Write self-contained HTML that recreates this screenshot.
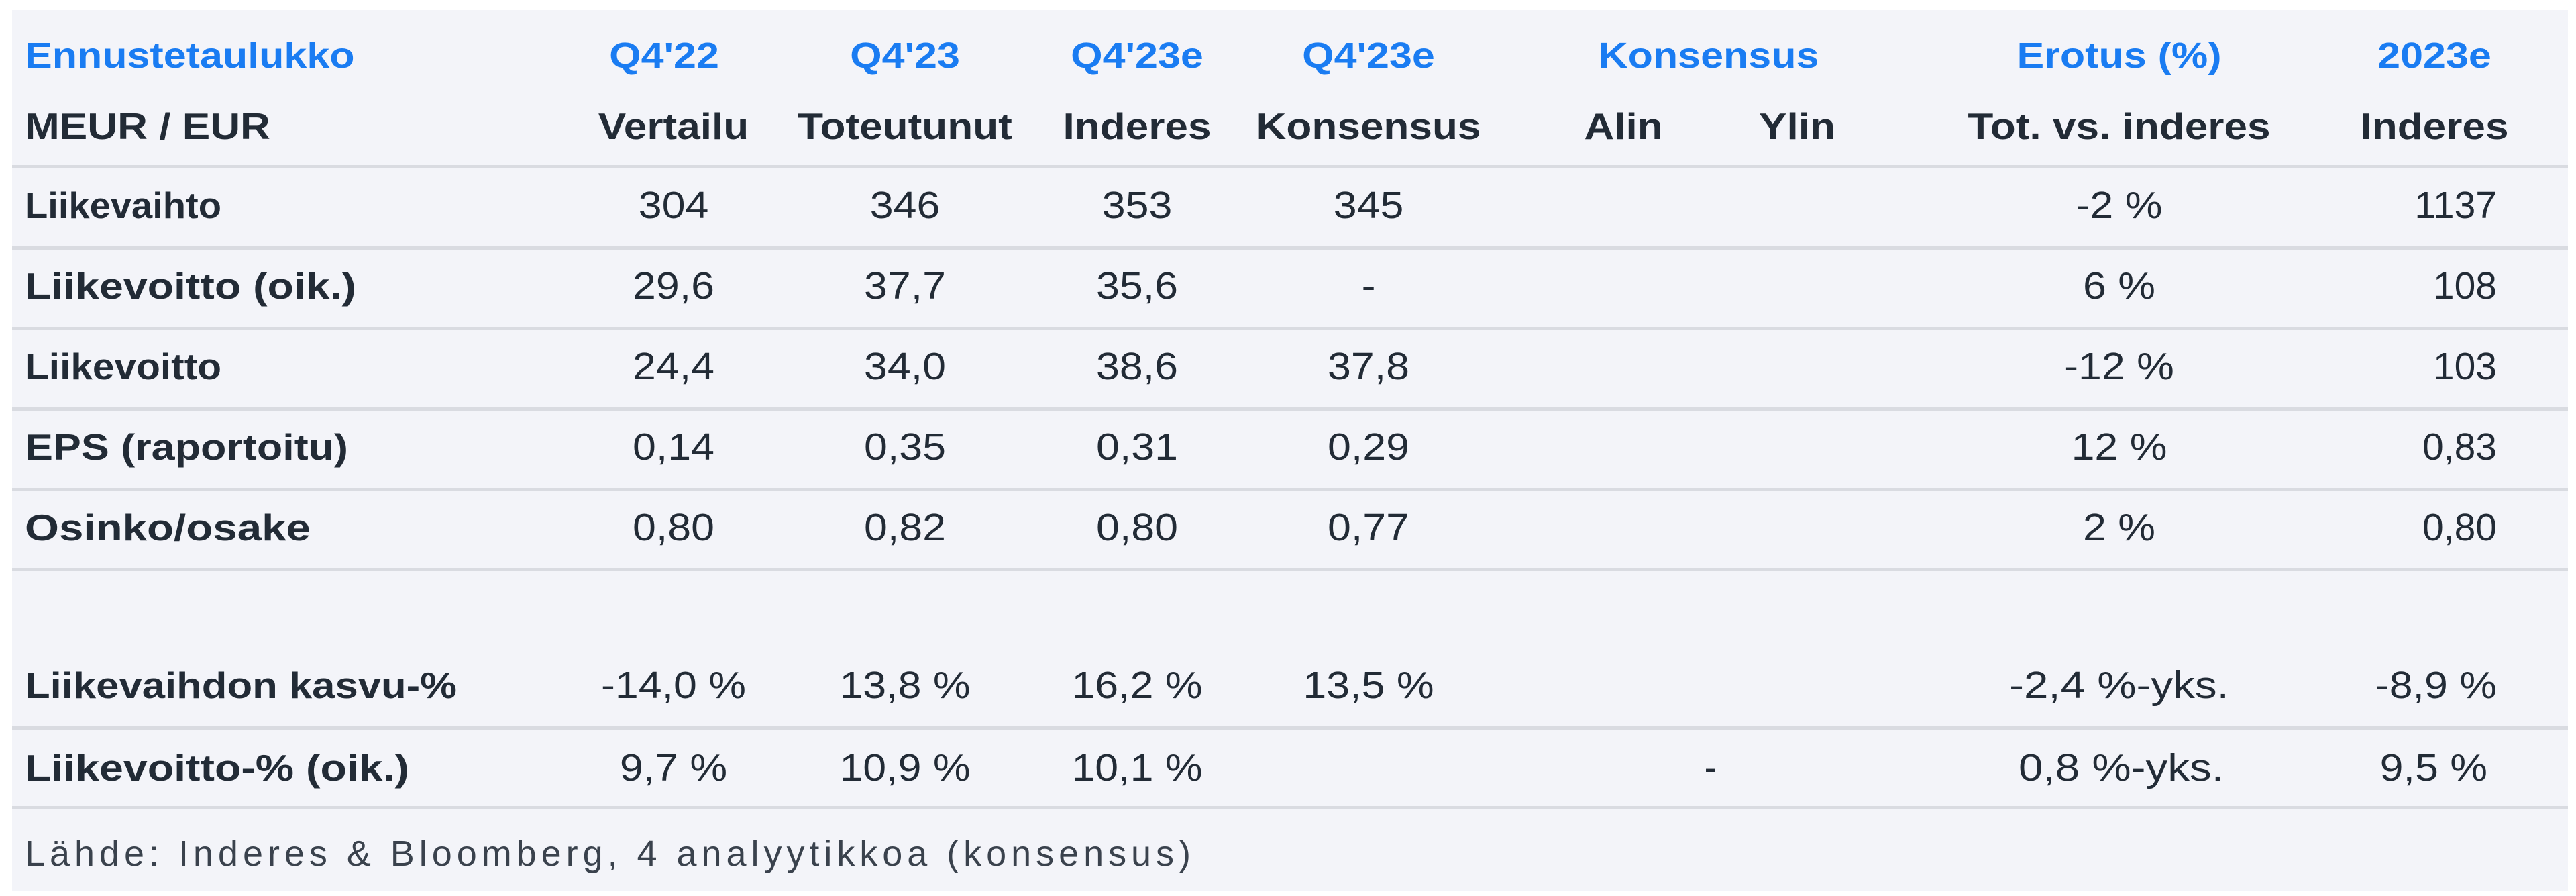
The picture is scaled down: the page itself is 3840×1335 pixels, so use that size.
<!DOCTYPE html>
<html><head><meta charset="utf-8"><style>
html,body{margin:0;padding:0;background:#fff;}
svg{display:block}
text{font-family:"Liberation Sans",sans-serif;}
.h{font-weight:bold;font-size:54px;fill:#1a7cf2;text-anchor:middle}
.s{font-weight:bold;font-size:55px;fill:#222b36;text-anchor:middle}
.l{font-weight:bold;font-size:55px;fill:#222b36}
.v{font-size:57px;fill:#222b36;text-anchor:middle}
.r{font-size:57px;fill:#222b36;text-anchor:end}
</style></head><body>
<svg width="3840" height="1335" viewBox="0 0 3840 1335" xmlns="http://www.w3.org/2000/svg">
<rect x="18" y="15" width="3810" height="1312" fill="#f3f4f9"/>
<g fill="#d9dbe1">
<rect x="18" y="246" width="3810" height="5"/>
<rect x="18" y="367" width="3810" height="5"/>
<rect x="18" y="487" width="3810" height="5"/>
<rect x="18" y="607" width="3810" height="5"/>
<rect x="18" y="727" width="3810" height="5"/>
<rect x="18" y="846" width="3810" height="5"/>
<rect x="18" y="1082" width="3810" height="5"/>
<rect x="18" y="1201" width="3810" height="5"/>
</g>
<g>
<text transform="translate(37,101) scale(1.13,1)" class="h" style="text-anchor:start">Ennustetaulukko</text>
<text transform="translate(990,101) scale(1.13,1)" class="h">Q4'22</text>
<text transform="translate(1349,101) scale(1.13,1)" class="h">Q4'23</text>
<text transform="translate(1695,101) scale(1.13,1)" class="h">Q4'23e</text>
<text transform="translate(2040,101) scale(1.13,1)" class="h">Q4'23e</text>
<text transform="translate(2547,101) scale(1.13,1)" class="h">Konsensus</text>
<text transform="translate(3159,101) scale(1.13,1)" class="h">Erotus (%)</text>
<text transform="translate(3629,101) scale(1.13,1)" class="h">2023e</text>
<text transform="translate(37,207) scale(1.13,1)" class="l">MEUR / EUR</text>
<text transform="translate(1004,207) scale(1.13,1)" class="s">Vertailu</text>
<text transform="translate(1349,207) scale(1.13,1)" class="s">Toteutunut</text>
<text transform="translate(1695,207) scale(1.13,1)" class="s">Inderes</text>
<text transform="translate(2040,207) scale(1.13,1)" class="s">Konsensus</text>
<text transform="translate(2420,207) scale(1.13,1)" class="s">Alin</text>
<text transform="translate(2679,207) scale(1.13,1)" class="s">Ylin</text>
<text transform="translate(3159,207) scale(1.13,1)" class="s">Tot. vs. inderes</text>
<text transform="translate(3629,207) scale(1.13,1)" class="s">Inderes</text>
</g>
<g>
<text transform="translate(37,325)" class="l" textLength="293" lengthAdjust="spacingAndGlyphs">Liikevaihto</text>
<text transform="translate(1004,325) scale(1.1,1)" class="v">304</text><text transform="translate(1349,325) scale(1.1,1)" class="v">346</text><text transform="translate(1695,325) scale(1.1,1)" class="v">353</text><text transform="translate(2040,325) scale(1.1,1)" class="v">345</text><text transform="translate(3159,325) scale(1.1,1)" class="v">-2 %</text><text x="3722" y="325" class="r">1137</text>
<text transform="translate(37,445)" class="l" textLength="494" lengthAdjust="spacingAndGlyphs">Liikevoitto (oik.)</text>
<text transform="translate(1004,445) scale(1.1,1)" class="v">29,6</text><text transform="translate(1349,445) scale(1.1,1)" class="v">37,7</text><text transform="translate(1695,445) scale(1.1,1)" class="v">35,6</text><text transform="translate(2040,445) scale(1.1,1)" class="v">-</text><text transform="translate(3159,445) scale(1.1,1)" class="v">6 %</text><text x="3722" y="445" class="r">108</text>
<text transform="translate(37,565)" class="l" textLength="293" lengthAdjust="spacingAndGlyphs">Liikevoitto</text>
<text transform="translate(1004,565) scale(1.1,1)" class="v">24,4</text><text transform="translate(1349,565) scale(1.1,1)" class="v">34,0</text><text transform="translate(1695,565) scale(1.1,1)" class="v">38,6</text><text transform="translate(2040,565) scale(1.1,1)" class="v">37,8</text><text transform="translate(3159,565) scale(1.1,1)" class="v">-12 %</text><text x="3722" y="565" class="r">103</text>
<text transform="translate(37,685)" class="l" textLength="482" lengthAdjust="spacingAndGlyphs">EPS (raportoitu)</text>
<text transform="translate(1004,685) scale(1.1,1)" class="v">0,14</text><text transform="translate(1349,685) scale(1.1,1)" class="v">0,35</text><text transform="translate(1695,685) scale(1.1,1)" class="v">0,31</text><text transform="translate(2040,685) scale(1.1,1)" class="v">0,29</text><text transform="translate(3159,685) scale(1.1,1)" class="v">12 %</text><text x="3722" y="685" class="r">0,83</text>
<text transform="translate(37,805)" class="l" textLength="426" lengthAdjust="spacingAndGlyphs">Osinko/osake</text>
<text transform="translate(1004,805) scale(1.1,1)" class="v">0,80</text><text transform="translate(1349,805) scale(1.1,1)" class="v">0,82</text><text transform="translate(1695,805) scale(1.1,1)" class="v">0,80</text><text transform="translate(2040,805) scale(1.1,1)" class="v">0,77</text><text transform="translate(3159,805) scale(1.1,1)" class="v">2 %</text><text x="3722" y="805" class="r">0,80</text>
<text transform="translate(37,1040)" class="l" textLength="644" lengthAdjust="spacingAndGlyphs">Liikevaihdon kasvu-%</text>
<text transform="translate(1004,1040) scale(1.1,1)" class="v">-14,0 %</text><text transform="translate(1349,1040) scale(1.1,1)" class="v">13,8 %</text><text transform="translate(1695,1040) scale(1.1,1)" class="v">16,2 %</text><text transform="translate(2040,1040) scale(1.1,1)" class="v">13,5 %</text><text transform="translate(3159,1040) scale(1.15,1)" class="v">-2,4 %-yks.</text><text transform="translate(3722,1040) scale(1.1,1)" class="r">-8,9 %</text>
<text transform="translate(37,1163)" class="l" textLength="573" lengthAdjust="spacingAndGlyphs">Liikevoitto-% (oik.)</text>
<text transform="translate(1004,1163) scale(1.1,1)" class="v">9,7 %</text><text transform="translate(1349,1163) scale(1.1,1)" class="v">10,9 %</text><text transform="translate(1695,1163) scale(1.1,1)" class="v">10,1 %</text><text transform="translate(2550,1163)" class="v">-</text><text transform="translate(3162,1163) scale(1.15,1)" class="v">0,8 %-yks.</text><text transform="translate(3708,1163) scale(1.1,1)" class="r">9,5 %</text>
<text x="37" y="1290" style="font-size:54px;fill:#3a424d" textLength="1738" lengthAdjust="spacing">Lähde: Inderes &amp; Bloomberg, 4 analyytikkoa  (konsensus)</text>
</g>
</svg>
</body></html>
